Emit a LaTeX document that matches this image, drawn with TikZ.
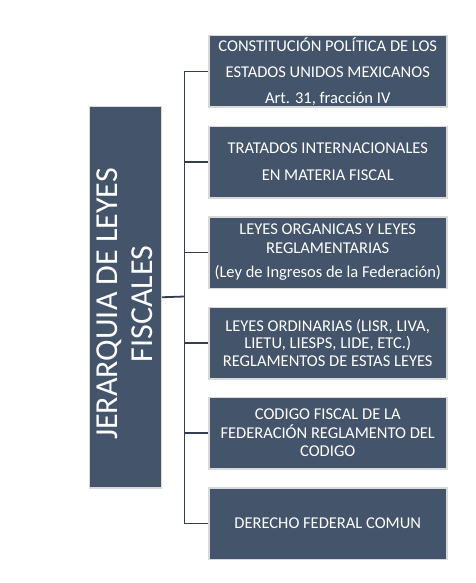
\documentclass[tikz,border=0pt]{standalone}
\usepackage{fontspec}
\setmainfont{Carlito}
\definecolor{boxfill}{HTML}{44546A}
\definecolor{boxline}{HTML}{D9D9D9}
\definecolor{connc}{HTML}{323F4F}
\begin{document}
\begin{tikzpicture}[x=1pt,y=-1pt,
  lawbox/.style={draw=boxline, line width=1.5pt, fill=boxfill, text=white,
    minimum width=238pt, minimum height=71.5pt, inner sep=0pt, align=center,
    anchor=north west},
  connline/.style={draw=connc, line width=1.8pt}]
\useasboundingbox (0,0) rectangle (476,583);
\node[draw=boxline, line width=1.5pt, fill=boxfill, minimum width=72pt, minimum height=381pt,
  inner sep=0pt, anchor=north west] (big) at (88.5,106) {};
\node[rotate=90, text=white, align=center, font=\fontsize{32}{35}\selectfont] (title) at (125,304)
  {JERARQUIA DE LEYES\\FISCALES};
\node[lawbox, font=\fontsize{16.5}{26}\selectfont] (b1) at (208,35)
  {CONSTITUCIÓN POLÍTICA DE LOS\\ESTADOS UNIDOS MEXICANOS\\Art. 31, fracción IV};
\node[lawbox, font=\fontsize{16.5}{27}\selectfont] (b2) at (208,125.5)
  {TRATADOS INTERNACIONALES\\EN MATERIA FISCAL};
\node[lawbox, font=\fontsize{16.5}{19}\selectfont] (b3) at (208,216)
  {LEYES ORGANICAS Y LEYES\\REGLAMENTARIAS\\[5pt](Ley de Ingresos de la Federación)};
\node[lawbox, font=\fontsize{16.5}{17.5}\selectfont] (b4) at (208,306.5)
  {LEYES ORDINARIAS (LISR, LIVA,\\LIETU, LIESPS, LIDE, ETC.)\\REGLAMENTOS DE ESTAS LEYES};
\node[lawbox, font=\fontsize{16.5}{18.5}\selectfont] (b5) at (208,396.5)
  {CODIGO FISCAL DE LA\\FEDERACIÓN REGLAMENTO DEL\\CODIGO};
\node[lawbox, font=\fontsize{16.5}{18}\selectfont] (b6) at (208,487)
  {DERECHO FEDERAL COMUN};
\coordinate (t) at (184.5,296.5);
\draw[connline] (big.east) -- (t);
\draw[connline] (b1.west) -| (t);
\draw[connline] (b2.west) -| (t);
\draw[connline] (b3.west) -| (t);
\draw[connline] (b4.west) -| (t);
\draw[connline] (b5.west) -| (t);
\draw[connline] (b6.west) -| (t);
\end{tikzpicture}
\end{document}
